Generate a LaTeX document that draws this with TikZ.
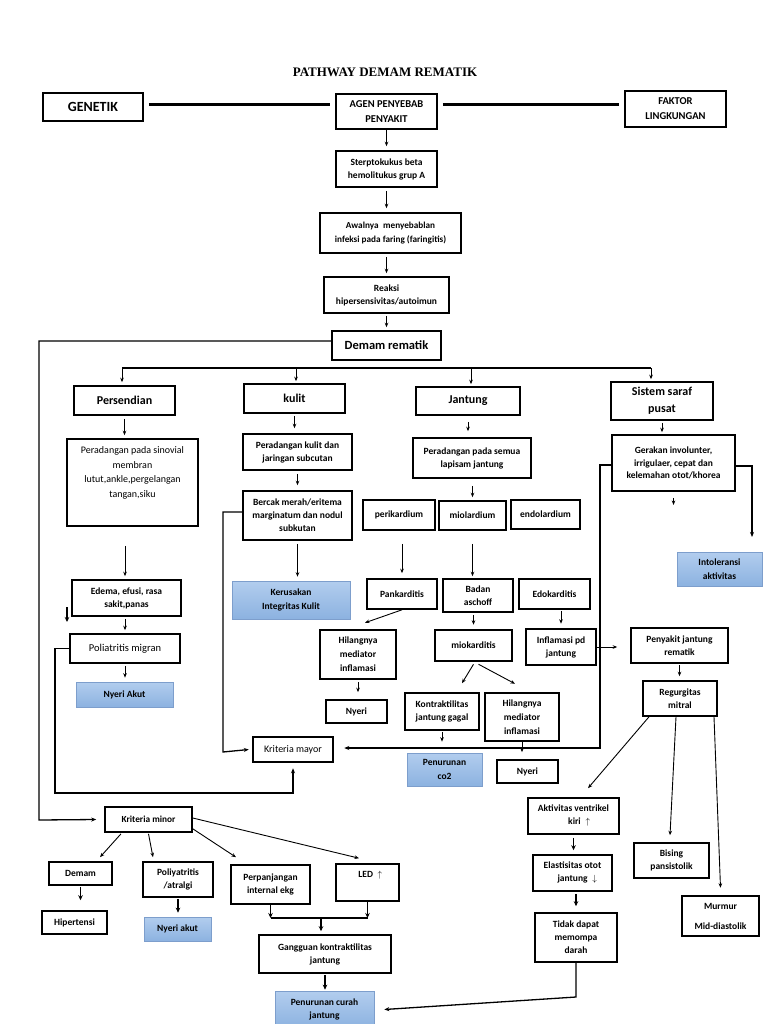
\documentclass[tikz,border=0pt]{standalone}
\usepackage{fontspec}
\setmainfont{Carlito}
\newfontfamily\titlefont{Liberation Serif}
\usetikzlibrary{arrows.meta}
\newcommand\fsz[2]{\fontsize{#1}{#2}\selectfont}
\definecolor{bltop}{RGB}{178,205,238}
\definecolor{blbot}{RGB}{140,178,224}
\definecolor{bldraw}{RGB}{125,158,204}
\begin{document}
\begin{tikzpicture}[x=1pt,y=-1pt,
 box/.style={draw=black,line width=1.6pt,inner sep=1pt,align=center,font=\fsz{9.5}{13}\bfseries},
 tbox/.style={box,line width=2.5pt},
 bbox/.style={draw=bldraw,line width=0.6pt,top color=bltop,bottom color=blbot,inner sep=1pt,align=center,font=\fsz{9.5}{13.5}\bfseries},
 bigf/.style={font=\fsz{12}{17}\bfseries},
 regf/.style={font=\fsz{10}{14.5}},
 arr/.style={line width=0.9pt,-{Stealth[length=4.5pt,width=3.6pt]}},
 arrT/.style={line width=1.6pt,-{Stealth[length=5pt,width=4.5pt]}},
 arrL/.style={line width=1.3pt,-{Stealth[length=5pt,width=4pt]}},
 thickline/.style={line width=3pt},
 busline/.style={line width=1.8pt},
]
\fill[white] (0,0) rectangle (768,1024);
\useasboundingbox (0,0) rectangle (768,1024);

% title
\node[font=\titlefont\fsz{13}{15}\bfseries] (title) at (385,72) {PATHWAY DEMAM REMATIK};

% top row
\node[box,minimum width=100pt,minimum height=28pt,font=\fsz{14}{16}\bfseries] (gen) at (93,107) {GENETIK};
\node[box,minimum width=101pt,minimum height=35pt,font=\fsz{10.5}{14.5}\bfseries] (agen) at (386.5,111.5) {AGEN PENYEBAB\\PENYAKIT};
\node[box,minimum width=101pt,minimum height=36pt,font=\fsz{10.5}{15}\bfseries] (fak) at (675.5,109) {FAKTOR\\LINGKUNGAN};
\node[box,minimum width=101pt,minimum height=36pt] (strep) at (386.5,169) {Sterptokukus beta\\hemolitukus grup A};
\node[box,minimum width=141pt,minimum height=40pt,font=\fsz{9.2}{13.5}\bfseries] (awal) at (390.5,233) {Awalnya\enspace menyebablan\\infeksi pada faring (faringitis)};
\node[box,minimum width=125pt,minimum height=36pt] (reak) at (386.5,295) {Reaksi\\hipersensivitas/autoimun};
\node[box,minimum width=109pt,minimum height=29pt,font=\fsz{12.5}{15}\bfseries] (dr) at (386.5,345.5) {Demam rematik};

% second row
\node[box,bigf,minimum width=101pt,minimum height=29pt] (pers) at (124.5,400.5) {Persendian};
\node[box,bigf,minimum width=101pt,minimum height=29pt] (kul) at (294.5,398.5) {kulit};
\node[box,bigf,minimum width=104pt,minimum height=28pt] (jan) at (468,401) {Jantung};
\node[box,bigf,minimum width=102pt,minimum height=38pt] (sis) at (662,401) {Sistem saraf\\pusat};

% third level
\node[box,regf,minimum width=131pt,minimum height=87pt] (sino) at (132.5,482.5) {Peradangan pada sinovial\\membran\\lutut,ankle,pergelangan\\tangan,siku\\[6pt]};
\node[box,minimum width=109pt,minimum height=36pt] (perk) at (297.5,452) {Peradangan kulit dan\\jaringan subcutan};
\node[box,minimum width=118pt,minimum height=40pt] (perj) at (472,458) {Peradangan pada semua\\lapisam jantung};
\node[box,minimum width=123pt,minimum height=56pt,font=\fsz{9.5}{12.5}\bfseries] (ger) at (673.5,463) {Gerakan involunter,\\irrigulaer, cepat dan\\kelemahan otot/khorea};
\node[box,minimum width=109pt,minimum height=49pt] (berc) at (297.5,515.5) {Bercak merah/eritema\\marginatum dan nodul\\subkutan};
\node[box,minimum width=72pt,minimum height=30pt] (peri) at (399,515) {perikardium};
\node[box,minimum width=67pt,minimum height=29pt] (miol) at (472.5,515.5) {miolardium};
\node[box,minimum width=69pt,minimum height=29pt] (endo) at (545.5,514.5) {endolardium};

% fourth level
\node[box,minimum width=109pt,minimum height=36pt] (edema) at (126.5,598) {Edema, efusi, rasa\\sakit,panas};
\node[bbox,minimum width=118pt,minimum height=38pt] (keru) at (291,600) {Kerusakan\\Integritas Kulit};
\node[box,minimum width=70pt,minimum height=30pt] (pank) at (402,594) {Pankarditis};
\node[box,minimum width=70pt,minimum height=33pt] (badan) at (478,595.5) {Badan\\aschoff};
\node[box,minimum width=71pt,minimum height=30pt] (edok) at (554.5,594) {Edokarditis};
\node[bbox,minimum width=85pt,minimum height=34pt] (intol) at (719.5,569) {Intoleransi\\aktivitas};

\node[box,minimum width=110pt,minimum height=29pt,font=\fsz{10.5}{14}] (polia) at (125,648.5) {Poliatritis migran};
\node[bbox,minimum width=97pt,minimum height=25pt] (nyA) at (124.5,694.5) {Nyeri Akut};
\node[tbox,minimum width=76pt,minimum height=49pt,font=\fsz{9.5}{14}\bfseries] (hil1) at (358,654.5) {Hilangnya\\mediator\\inflamasi};
\node[tbox,minimum width=77pt,minimum height=31pt] (miok) at (473.5,645.5) {miokarditis};
\node[tbox,minimum width=70pt,minimum height=36pt] (infl) at (561,647) {Inflamasi pd\\jantung};
\node[box,minimum width=97pt,minimum height=35pt,font=\fsz{9.5}{12.5}\bfseries] (pjr) at (679.5,645.5) {Penyakit jantung\\rematik};
\node[box,minimum width=74pt,minimum height=35pt] (reg) at (680,698.5) {Regurgitas\\mitral};
\node[box,minimum width=61pt,minimum height=23pt] (ny1) at (356.5,711.5) {Nyeri};
\node[box,minimum width=74pt,minimum height=37pt] (kontr) at (442,711.5) {Kontraktilitas\\jantung gagal};
\node[tbox,minimum width=74pt,minimum height=48pt,font=\fsz{9.5}{14}\bfseries] (hil2) at (522,717) {Hilangnya\\mediator\\inflamasi};
\node[tbox,minimum width=80pt,minimum height=25pt,font=\fsz{10}{13}] (kmay) at (293,749.5) {Kriteria mayor};
\node[bbox,minimum width=75pt,minimum height=33pt] (co2) at (444.5,769.5) {Penurunan\\co2};
\node[box,minimum width=61pt,minimum height=23pt] (ny2) at (527.5,771.5) {Nyeri};

% lower part
\node[box,minimum width=91pt,minimum height=36pt] (aktiv) at (573.5,816) {Aktivitas ventrikel\\\hspace*{1.2em}kiri\enspace$\uparrow$};
\node[box,minimum width=87pt,minimum height=25pt,font=\fsz{9.3}{12}\bfseries] (kmin) at (148.5,819.5) {Kriteria minor};
\node[box,minimum width=75pt,minimum height=35pt] (bis) at (671.5,860.5) {Bising\\pansistolik};
\node[box,minimum width=79pt,minimum height=36pt] (elast) at (572.5,873) {Elastisitas otot\\\hspace*{1em}jantung\enspace$\downarrow$};
\node[box,minimum width=63pt,minimum height=23pt] (demam) at (80.5,873.5) {Demam};
\node[box,minimum width=70pt,minimum height=35pt] (poli2) at (178,879.5) {Poliyatritis\\/atralgi};
\node[box,minimum width=79pt,minimum height=39pt] (perp) at (270.5,884.5) {Perpanjangan\\internal ekg};
\node[box,minimum width=63pt,minimum height=37pt] (led) at (367.5,882.5) {\hspace*{0.6em}LED\enspace$\uparrow$\\[4pt]};
\node[tbox,minimum width=77pt,minimum height=40pt] (mur) at (720.5,916) {Murmur\\[7pt]Mid-diastolik};
\node[box,minimum width=65pt,minimum height=23pt] (hip) at (74.5,922.5) {Hipertensi};
\node[bbox,minimum width=67pt,minimum height=24pt] (nyA2) at (177.5,929) {Nyeri akut};
\node[box,minimum width=82pt,minimum height=49pt] (tidak) at (576,937.5) {Tidak dapat\\memompa\\darah};
\node[box,minimum width=132pt,minimum height=38pt] (gang) at (325,954) {Gangguan kontraktilitas\\jantung};
\node[bbox,minimum width=99pt,minimum height=37pt] (pcj) at (324.5,1009.5) {Penurunan curah\\jantung};

% helper coordinates
\coordinate (b1) at (122,368);
\coordinate (b2) at (296,368);
\coordinate (b3) at (471,368);
\coordinate (b4) at (651,368);
\coordinate (lc) at (39,820);
\coordinate (pl) at (55,793);
\coordinate (bl) at (223,752);
\coordinate (gl) at (600,748);
\coordinate (gr) at (752,537);
\coordinate (gs) at (673.5,505);
\coordinate (st1) at (67,607);
\coordinate (st2) at (67,622);
\coordinate (tk) at (576,997);
\coordinate (brk) at (321,918);

% top connectors
\draw[thickline] ([xshift=5pt,yshift=2pt]gen.east) -- ([xshift=-5pt,yshift=6.5pt]agen.west);
\draw[thickline] ([xshift=5pt,yshift=6.5pt]agen.east) -- ([xshift=-5pt,yshift=4pt]fak.west);
\draw[arr,shorten >=4pt] (agen.south) -- (strep.north);
\draw[arr,shorten >=4pt,shorten <=3pt] (strep.south) -- (strep.south |- awal.north);
\draw[arr,shorten >=3pt,shorten <=3pt] (reak.north |- awal.south) -- (reak.north);
\draw[arr,shorten >=3pt,shorten <=2pt] (reak.south) -- (dr.north);

% bus
\draw[busline] (b1) -- (b4);
\draw[arr,shorten >=3pt] (b1) -- (b1 |- pers.north);
\draw[arr,shorten >=2pt] (b2) -- (b2 |- kul.north);
\draw[arr,shorten >=2pt] (b3) -- (b3 |- jan.north);
\draw[arr,shorten >=2pt] (b4) -- (b4 |- sis.north);

% left long line to kriteria minor
\draw[arrL] ([yshift=4.5pt]dr.west) -| (lc) -- ([xshift=-8pt]kmin.west);

% persendian column
\draw[arr,shorten >=3pt,shorten <=3pt] (pers.south) -- (pers.south |- sino.north);
\draw[arr,shorten >=3pt,shorten <=19pt] (polia.north |- sino.south) -- (polia.north |- edema.north);
\draw[arr,shorten >=3pt,shorten <=2pt] (polia.north |- edema.south) -- (polia.north);
\draw[arr,shorten >=4pt,shorten <=2pt] (polia.south) -- (polia.south |- nyA.north);
\draw[arrT] (st1) -- (st2);
\draw[arrL,shorten >=5pt] (polia.west) -| (pl) -| (kmay.south);

% kulit column
\draw[arr,shorten >=5pt,shorten <=2pt] (kul.south) -- (kul.south |- perk.north);
\draw[arr,shorten >=5pt,shorten <=3pt] (perk.south) -- (berc.north);
\draw[arr,shorten >=4pt,shorten <=3pt] (berc.south) -- (berc.south |- keru.north);
\draw[arrL] ([yshift=3.5pt]berc.west) -| (bl) -- ([xshift=-3pt]kmay.west);

% jantung column
\draw[arr,shorten >=6pt,shorten <=6pt] (jan.south) -- (jan.south |- perj.north);
\draw[arr,shorten >=3pt,shorten <=7pt] (miol.north |- perj.south) -- (miol.north);
\draw[arr,shorten >=5pt,shorten <=13pt] (pank.north |- peri.south) -- (pank.north);
\draw[arr,shorten >=2pt,shorten <=13pt] (miol.south) -- (miol.south |- badan.north);
\draw[arr] (pank.south) -- ([xshift=7pt,yshift=6pt]hil1.north);
\draw[arr,shorten >=7pt,shorten <=2pt] (hil1.south) -- (hil1.south |- ny1.north);
\draw[arr,shorten >=4pt,shorten <=2pt] (miok.north |- badan.south) -- (miok.north);
\draw[arr] ([yshift=-2pt]miok.south) -- ([xshift=20pt,yshift=9pt]kontr.north);
\draw[arr] ([xshift=5pt,yshift=-2pt]miok.south) -- ([xshift=-7pt,yshift=8pt]hil2.north);
\draw[arr,shorten >=11pt,shorten <=1pt] (kontr.south) -- (kontr.south |- co2.north);
\draw[arr,shorten >=7pt] (hil2.south) -- (hil2.south |- ny2.north);
\draw[arr,shorten >=4pt,shorten <=1pt] (infl.north |- edok.south) -- (infl.north);
\draw[arr,shorten >=13pt] (infl.east) -- (infl.east -| pjr.west);
\draw[arr,shorten >=4pt,shorten <=1pt] (pjr.south) -- (pjr.south |- reg.north);

% sistem saraf column
\draw[arr,shorten >=2pt,shorten <=2pt] (sis.south) -- (sis.south |- ger.north);
\draw[arr] ([yshift=-6pt]ger.south) -- (gs);
\draw[arrL] ([yshift=-3pt]ger.east) -| (gr);
\draw[arrL,shorten >=10pt] ([yshift=-2pt]ger.west) -| (gl) -- (gl -| kmay.east);

% regurgitasi
\draw[arr] ([xshift=-31pt]reg.south) -- ([xshift=14.5pt,yshift=9pt]aktiv.north);
\draw[arr] ([xshift=-4pt]reg.south) -- ([xshift=-1.5pt,yshift=7pt]bis.north);
\draw[arr] ([xshift=34pt]reg.south) -- ([yshift=7pt]mur.north);
\draw[arrT,shorten >=4pt,shorten <=3pt] (aktiv.south) -- (aktiv.south |- elast.north);
\draw[arrT,shorten >=6pt,shorten <=2pt] (tidak.north |- elast.south) -- (tidak.north);
\draw[arrL] (tidak.south) -- (tk) -- ([xshift=10pt]pcj.east);

% kriteria minor
\draw[arr] ([xshift=-27.5pt,yshift=-1pt]kmin.south) -- ([xshift=19.5pt,yshift=4pt]demam.north);
\draw[arr] ([yshift=-1pt]kmin.south) -- ([xshift=-25pt,yshift=4pt]poli2.north);
\draw[arr] ([yshift=4pt]kmin.south east) -- ([xshift=-34.5pt,yshift=7pt]perp.north);
\draw[arr] ([yshift=1.5pt]kmin.east) -- ([xshift=-8.5pt,yshift=5pt]led.north);
\draw[arrT,shorten >=10pt,shorten <=1pt] (demam.south) -- (demam.south |- hip.north);
\draw[arrT,shorten >=4pt,shorten <=1pt] (poli2.south) -- (poli2.south |- nyA2.north);
\draw[arrT] (perp.south) -- (perp.south |- brk);
\draw[arrT] (led.south) -- (led.south |- brk);
\draw[line width=1.6pt] (perp.south |- brk) -- (led.south |- brk);
\draw[arrT,shorten >=3pt] (brk) -- (brk |- gang.north);
\draw[arrT,shorten >=1pt,shorten <=1pt] (gang.south) -- (gang.south |- pcj.north);
\end{tikzpicture}
\end{document}
